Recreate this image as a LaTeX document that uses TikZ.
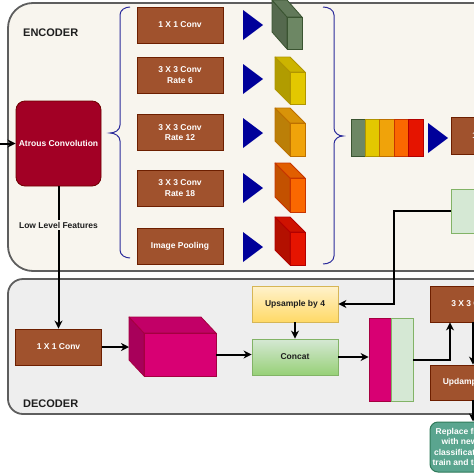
\documentclass[tikz,border=0pt]{standalone}
\usepackage{fontspec}
\setmainfont{Liberation Sans}
\usetikzlibrary{arrows.meta,calc}
\definecolor{encbg}{HTML}{F8F5EE}
\definecolor{decbg}{HTML}{EEEEEE}
\definecolor{frame}{HTML}{5E5E5E}
\definecolor{brownf}{HTML}{A0522D}
\definecolor{brownd}{HTML}{6D1F00}
\definecolor{atrf}{HTML}{A20025}
\definecolor{atrd}{HTML}{6F0000}
\definecolor{trif}{HTML}{00009A}
\definecolor{bracec}{HTML}{2B2B9B}
\definecolor{cgreen}{HTML}{6D8764}
\definecolor{cgreend}{HTML}{3A5431}
\definecolor{cyellow}{HTML}{E3C800}
\definecolor{cyellowd}{HTML}{B09500}
\definecolor{corange}{HTML}{F0A30A}
\definecolor{coranged}{HTML}{BD7000}
\definecolor{corred}{HTML}{FA6800}
\definecolor{corredd}{HTML}{C73500}
\definecolor{cred}{HTML}{E51400}
\definecolor{credd}{HTML}{B20000}
\definecolor{cmag}{HTML}{D80073}
\definecolor{cmagd}{HTML}{A50040}
\definecolor{lgreen}{HTML}{D5E8D4}
\definecolor{lgreend}{HTML}{82B366}
\definecolor{ylwt}{HTML}{FFF2CC}
\definecolor{ylwb}{HTML}{FFD966}
\definecolor{ylwd}{HTML}{D6B656}
\definecolor{grnb}{HTML}{97D077}
\definecolor{tealf}{HTML}{5AA58F}
\definecolor{teald}{HTML}{2F7A5A}
\definecolor{txtd}{HTML}{1E1E1E}
% cube: #1 front left x, #2 front top y, #3 width, #4 height, #5 depth y, #6 fill, #7 border
\newcommand\mkcube[7]{%
  \filldraw[fill=#6!78!black, draw=#7, line width=0.8pt, line join=round]
    (#1-15,#2-#5) -- (#1,#2) -- (#1,#2+#4) -- (#1-15,#2+#4-#5) -- cycle;
  \filldraw[fill=#6!90!black, draw=#7, line width=0.8pt, line join=round]
    (#1-15,#2-#5) -- (#1+#3-15,#2-#5) -- (#1+#3,#2) -- (#1,#2) -- cycle;
  \filldraw[fill=#6, draw=#7, line width=0.8pt] (#1,#2) rectangle (#1+#3,#2+#4);
}
\newcommand\mktri[1]{%
  \fill[trif] (243,#1-15) -- (263,#1) -- (243,#1+15) -- cycle;
}
\begin{document}
\begin{tikzpicture}[x=1pt,y=-1pt,
  font=\fontsize{8.5}{10.5}\selectfont\bfseries,
  convbox/.style={fill=brownf, draw=brownd, line width=0.8pt, text=white,
    minimum width=86pt, minimum height=36pt, inner sep=1pt, align=center},
  barseg/.style={line width=0.8pt, minimum width=14.4pt, minimum height=37pt, inner sep=0pt},
  arr/.style={draw=black, line width=2pt, -{Stealth[length=8pt,width=8pt,inset=2.5pt]}},
  bracepath/.style={draw=bracec, line width=1pt},
  title/.style={font=\fontsize{11}{13}\selectfont\bfseries, text=txtd, inner sep=0pt, anchor=west}
]
\useasboundingbox (0,0) rectangle (474,474);
\clip (0,0) rectangle (474,474);
\fill[white] (0,0) rectangle (474,474);

% containers
\draw[fill=encbg, draw=frame, line width=1.8pt, rounded corners=25pt] (8,3) rectangle (540,271);
\draw[fill=decbg, draw=frame, line width=1.8pt, rounded corners=15pt] (8,279) rectangle (540,414);
\node[title] (enc) at (23,33) {ENCODER};
\node[title] (dec) at (23,404) {DECODER};

% atrous
\node[fill=atrf, draw=atrd, line width=0.8pt, rounded corners=9pt, text=white,
  minimum width=85pt, minimum height=85pt, inner sep=1pt] (atr) at (58.5,143.5) {Atrous Convolution};
\coordinate (inL) at (0,143.5);
\draw[arr] (inL) -- (atr.west);

% braces
\draw[bracepath] (130,7) to[out=180,in=90] (120,15) -- (120,125)
  to[out=-90,in=0] (110,133) to[out=0,in=90] (120,141) -- (120,250)
  to[out=-90,in=180] (130,258);
\draw[bracepath] (323,7) to[out=0,in=90] (334,15) -- (334,128)
  to[out=-90,in=180] (343,136) to[out=180,in=90] (334,144) -- (334,256)
  to[out=-90,in=0] (323,264);

% conv boxes
\node[convbox] (c1) at (180,25) {1 X 1 Conv};
\node[convbox] (c2) at (180,75) {3 X 3 Conv\\Rate 6};
\node[convbox] (c3) at (180,132.5) {3 X 3 Conv\\Rate 12};
\node[convbox] (c4) at (180,188) {3 X 3 Conv\\Rate 18};
\node[convbox] (c5) at (180,246.5) {Image Pooling};

% triangles
\mktri{25}
\mktri{79}
\mktri{133}
\mktri{188}
\mktri{247}

% cubes
\mkcube{287}{17}{15}{32}{17}{cgreen}{cgreend}
\mkcube{290}{72}{15}{32}{15}{cyellow}{cyellowd}
\mkcube{290}{123}{15}{33}{15}{corange}{coranged}
\mkcube{290}{178}{15}{34}{15}{corred}{corredd}
\mkcube{290}{232}{15}{33}{15}{cred}{credd}

% concatenated bar
\node[barseg, fill=cgreen, draw=cgreend] (b1) at (358.2,137.5) {};
\node[barseg, fill=cyellow, draw=cyellowd] (b2) at (372.6,137.5) {};
\node[barseg, fill=corange, draw=coranged] (b3) at (387,137.5) {};
\node[barseg, fill=corred, draw=corredd] (b4) at (401.4,137.5) {};
\node[barseg, fill=cred, draw=credd] (b5) at (415.8,137.5) {};
\fill[trif] (428,123) -- (448,138) -- (428,153) -- cycle;
\node[convbox, minimum height=37pt] (c6) at (494,135.5) {1 X 1 Conv};

% light green box at right
\node[fill=lgreen, draw=lgreend, line width=0.8pt, minimum width=88pt, minimum height=44pt] (lg) at (495,211) {};

% low level features
\node[convbox] (dconv) at (58.5,347) {1 X 1 Conv};
\draw[arr] (atr.south) -- (dconv.north);
\node[fill=encbg, text=txtd, inner sep=1.5pt] (llf) at (58.5,225) {Low Level Features};

% upsample / concat
\node[top color=ylwt, bottom color=ylwb, draw=ylwd, line width=0.8pt, text=txtd,
  minimum width=86pt, minimum height=36pt] (ups) at (295,304) {Upsample by 4};
\node[top color=lgreen, bottom color=grnb, draw=lgreend, line width=0.8pt, text=txtd,
  minimum width=86pt, minimum height=36pt] (cat) at (295,357) {Concat};
\coordinate (k1) at (394,211);
\draw[arr] (lg.west) -- (k1) |- (ups.east);
\draw[arr] (ups.south) -- (cat.north);

% magenta cube
\filldraw[fill=cmag!78!black, draw=cmagd, line width=0.8pt, line join=round]
  (129,317) -- (144,333) -- (144,376) -- (129,360) -- cycle;
\filldraw[fill=cmag!90!black, draw=cmagd, line width=0.8pt, line join=round]
  (129,317) -- (201,317) -- (216,333) -- (144,333) -- cycle;
\node[fill=cmag, draw=cmagd, line width=0.8pt, minimum width=72pt, minimum height=43pt, inner sep=0pt] (magf) at (180,354.5) {};
\coordinate (magin) at (129,347);
\draw[arr] (dconv.east) -- (dconv.east -| magin);
\draw[arr] (magf.east) -- (magf.east -| cat.west);

% decoder stack
\node[fill=cmag, draw=cmagd, line width=0.8pt, minimum width=22pt, minimum height=83pt, inner sep=0pt] (dm) at (380,359.5) {};
\node[fill=lgreen, draw=lgreend, line width=0.8pt, minimum width=22pt, minimum height=83pt, inner sep=0pt] (dg) at (402,359.5) {};
\draw[arr] (cat.east) -- (cat.east -| dm.west);

% right column
\node[convbox] (c33) at (473,304) {3 X 3 Conv};
\node[convbox, minimum height=35pt] (upd) at (473,382.5) {Updample by 4};
\node[fill=tealf, draw=teald, line width=1pt, rounded corners=8pt, text=white,
  minimum width=86pt, minimum height=50pt, inner sep=1pt, align=center,
  font=\fontsize{8.5}{10.3}\selectfont\bfseries] (repl) at (473,447)
  {Replace final layer\\with new layers\\classification layer,\\train and test model};
\coordinate (k2) at (450,0);
\draw[arr] (dg.east) -| (k2 |- c33.south);
\draw[arr] (c33.south) -- (upd.north);
\draw[arr] (upd.south) -- (repl.north);
\end{tikzpicture}
\end{document}
